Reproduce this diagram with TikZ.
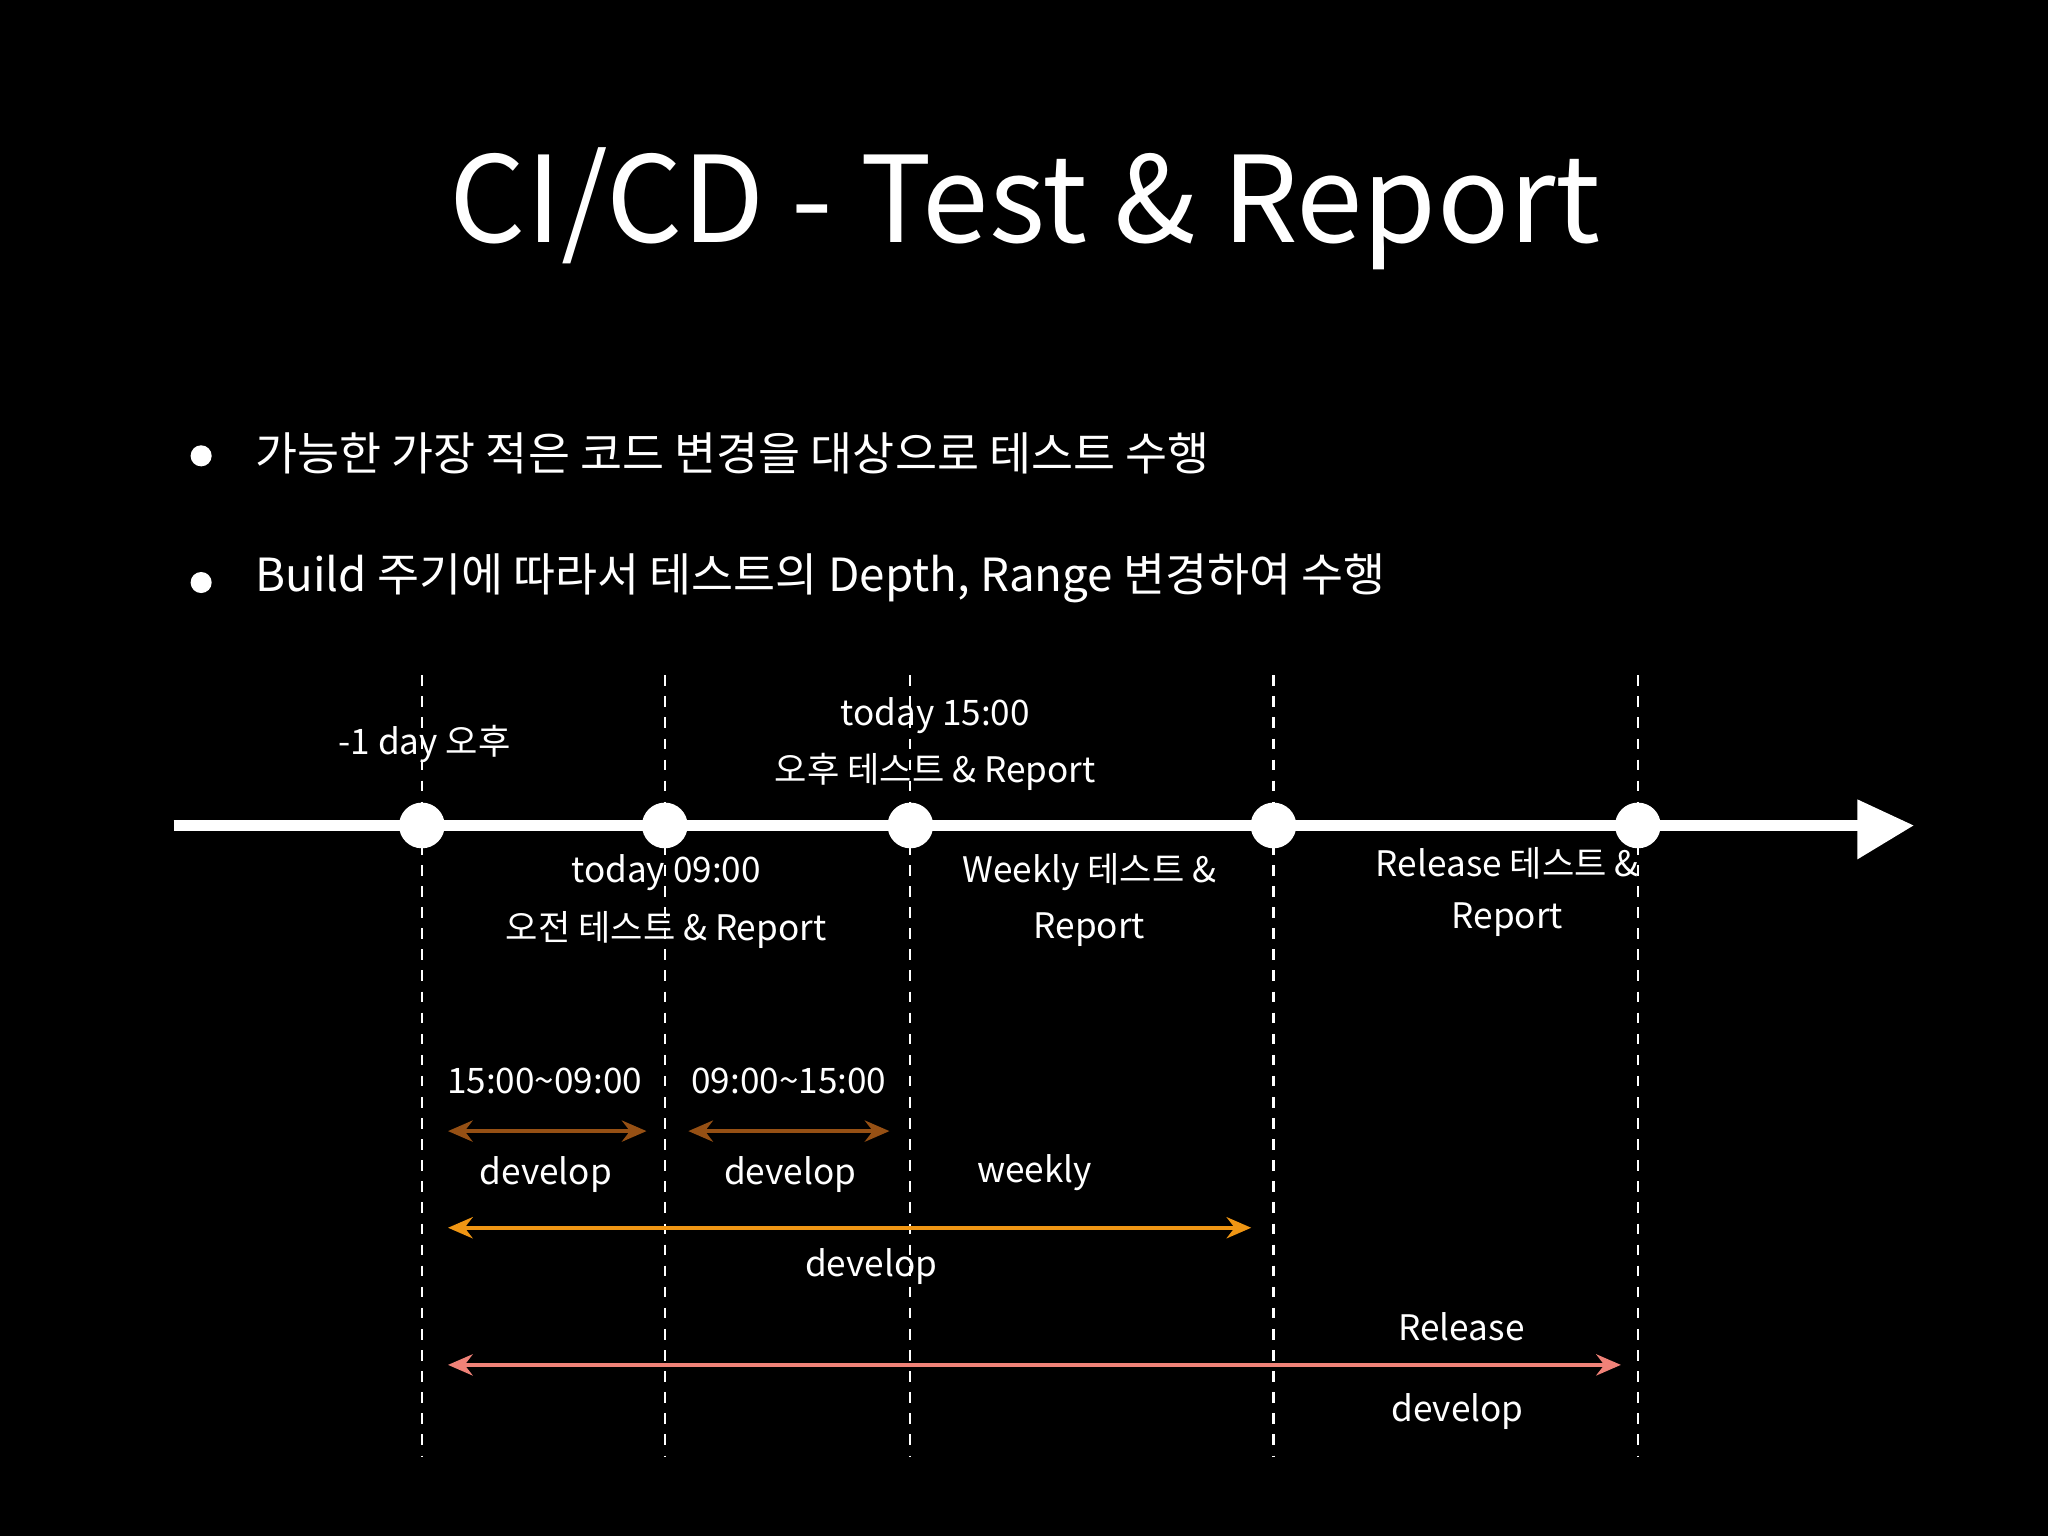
\documentclass[tikz,border=0pt]{standalone}
\usepackage{fontspec}
\setmainfont{Noto Sans CJK KR}
\usetikzlibrary{arrows.meta}
\begin{document}
\begin{tikzpicture}[x=0.01306cm,y=-0.01306cm,
  lbl/.style={text=white,font=\fontsize{10}{12}\selectfont,inner sep=1pt},
  vline/.style={white,dashed,line width=0.6pt},
  dot/.style={circle,fill=white,minimum size=13pt,inner sep=0pt},
  span/.style={line width=1.2pt,{Stealth[length=7pt,width=6pt]}-{Stealth[length=7pt,width=6pt]}}]
\fill[black] (0,0) rectangle (1568,1176);
\useasboundingbox (0,0) rectangle (1568,1176);
\node[text=white,font=\fontsize{34}{40}\selectfont] (title) at (785,160) {CI/CD - Test \& Report};
\node[dot,minimum size=6pt] (b1) at (154,349) {};
\node[dot,minimum size=6pt] (b2) at (154,446) {};
\node[text=white,anchor=west,font=\fontsize{13}{16}\selectfont] (t1) at (186,347) {가능한 가장 적은 코드 변경을 대상으로 테스트 수행};
\node[text=white,anchor=west,font=\fontsize{13}{16}\selectfont] (t2) at (186,443) {Build 주기에 따라서 테스트의 Depth, Range 변경하여 수행};
% dashed lines
\foreach \n/\x in {1/323,2/509,3/697,4/975,5/1254}{
  \coordinate (top\n) at (\x,517); \coordinate (bot\n) at (\x,1115);
  \draw[vline] (top\n) -- (bot\n);}
% timeline
\coordinate (tl0) at (133,632);
\coordinate (tl1) at (1425,632);
\draw[white,line width=3pt] (tl0) -- (tl1);
\fill[white] (1422,612) -- (1465,632) -- (1422,658) -- cycle;
\foreach \n/\x in {1/323,2/509,3/697,4/975,5/1254}{\node[dot] (c\n) at (\x,632) {};}
% labels
\node[lbl] (l1) at (325,570) {-1 day 오후};
\node[lbl] (l2a) at (716,548) {today 15:00};
\node[lbl] (l2b) at (716,591) {오후 테스트 \& Report};
\node[lbl] (l3a) at (510,668) {today 09:00};
\node[lbl] (l3b) at (510,712) {오전 테스트 \& Report};
\node[lbl] (l4a) at (834,668) {Weekly 테스트 \&};
\node[lbl] (l4b) at (834,712) {Report};
\node[lbl] (l5a) at (1154,661) {Release 테스트 \&};
\node[lbl] (l5b) at (1154,704) {Report};
% spans
\node[lbl] (s1) at (417,828) {15:00\textasciitilde09:00};
\node[lbl] (s2) at (604,828) {09:00\textasciitilde15:00};
\coordinate (a1l) at (343,866); \coordinate (a1r) at (495,866);
\coordinate (a2l) at (527,866); \coordinate (a2r) at (681,866);
\draw[span,color={rgb,255:red,150;green,80;blue,20}] (a1l) -- (a1r);
\draw[span,color={rgb,255:red,150;green,80;blue,20}] (a2l) -- (a2r);
\node[lbl] (d1) at (418,899) {develop};
\node[lbl] (d2) at (605,899) {develop};
\node[lbl] (w) at (792,898) {weekly};
\coordinate (a3l) at (343,940); \coordinate (a3r) at (958,940);
\draw[span,color={rgb,255:red,240;green,150;blue,20}] (a3l) -- (a3r);
\node[lbl] (d3) at (667,970) {develop};
\node[lbl] (r) at (1119,1016) {Release};
\coordinate (a4l) at (343,1045); \coordinate (a4r) at (1241,1045);
\draw[span,color={rgb,255:red,240;green,130;blue,120}] (a4l) -- (a4r);
\node[lbl] (d4) at (1116,1081) {develop};
\end{tikzpicture}
\end{document}
